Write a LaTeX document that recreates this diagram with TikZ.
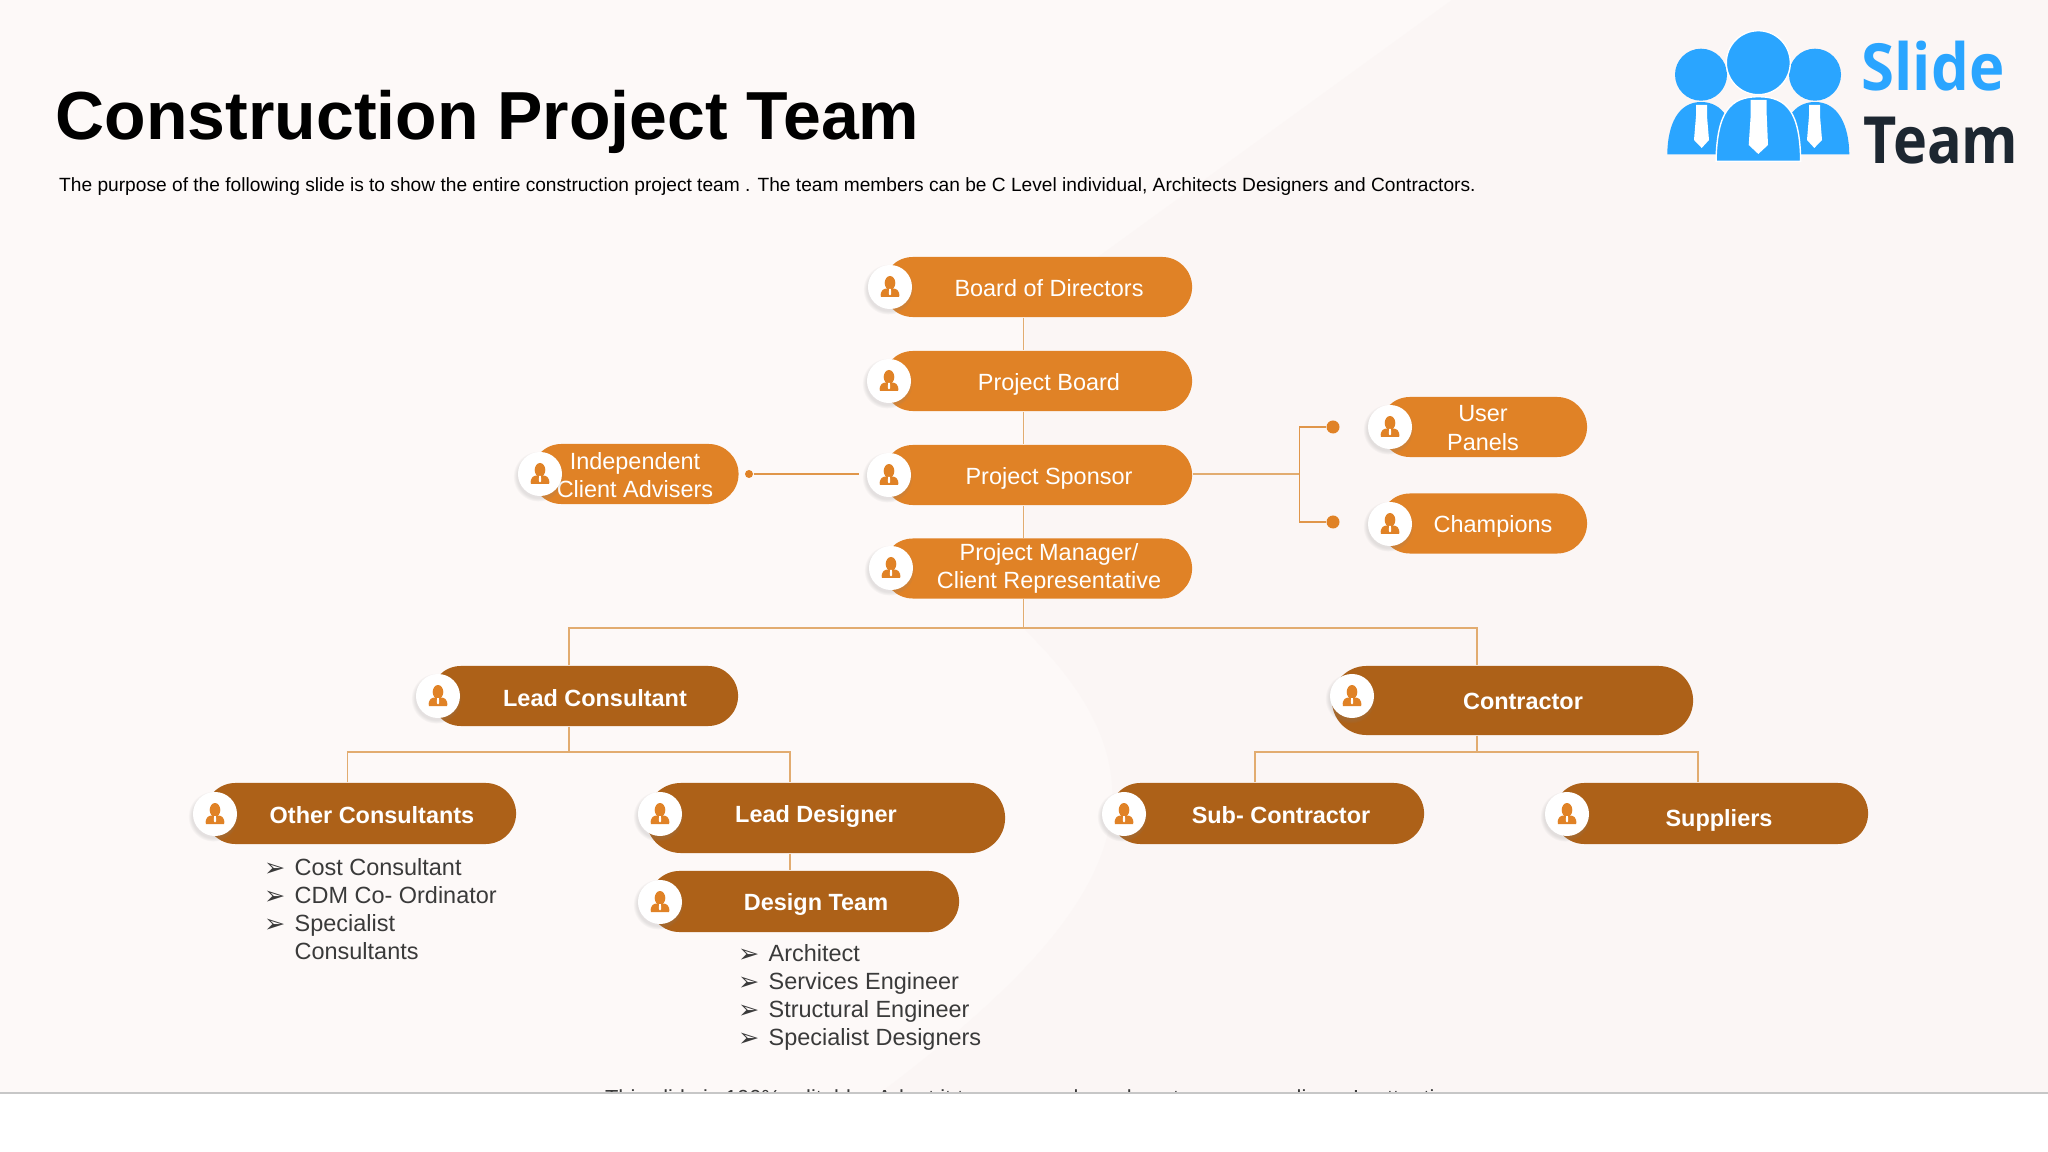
\documentclass[tikz,border=0pt]{standalone}
\usepackage{fontspec}
\setmainfont{Liberation Sans}
\newfontfamily\logofont{Open Sans}
\newfontfamily\bulletfont{DejaVu Sans}
\usetikzlibrary{shapes.misc,shadows}
\definecolor{pillorange}{HTML}{E08226}
\definecolor{pillbrown}{HTML}{AD6118}
\definecolor{connline}{HTML}{E2AC70}
\definecolor{connfork}{HTML}{E0964A}
\definecolor{logoblue}{HTML}{2AA5FF}
\definecolor{logodark}{HTML}{1D2731}
\definecolor{listgray}{HTML}{3A3A3A}
\definecolor{slideback}{HTML}{FDF9F8}
\definecolor{slideright}{HTML}{FBF6F5}
\newlength{\unitpx}
\setlength{\unitpx}{0.01cm}
\newcommand{\listmark}{\makebox[28\unitpx][l]{\hspace*{-2.5\unitpx}\raisebox{-0.3pt}{\bulletfont\fontsize{7.2}{8}\selectfont ➢}}}
\tikzset{
  pillbase/.style={rounded rectangle, inner sep=0pt, text=white, minimum height=0.6cm},
  orangepill/.style={pillbase, fill=pillorange},
  brownpill/.style={pillbase, fill=pillbrown},
  pilltext/.style={text=white, align=center, inner sep=0pt, font=\fontsize{6.67}{8}\selectfont},
  boldtext/.style={pilltext, font=\fontsize{6.67}{8}\selectfont\bfseries},
  listtext/.style={text=listgray, align=left, inner sep=0pt, anchor=north west, font=\fontsize{6.67}{7.97}\selectfont},
  iconcircle/.style={circle, fill=white, minimum size=0.44cm, inner sep=0pt,
    circular drop shadow={shadow xshift=-0.015cm, shadow yshift=-0.02cm, shadow scale=1.15, opacity=0.2}},
  conn/.style={draw=connline, line width=0.4pt},
  connbold/.style={draw=connfork, line width=0.55pt},
  enddot/.style={circle, fill=pillorange, minimum size=0.13cm, inner sep=0pt},
  smalldot/.style={enddot, minimum size=0.08cm},
  personicon/.pic={
    \fill[pillorange] (0,-4) ellipse (5.3 and 7);
    \fill[pillorange] (-9.2,10) .. controls (-10,3) and (-6,1.5) .. (-3,1.5) -- (3,1.5)
      .. controls (6,1.5) and (10,3) .. (9.2,10) -- cycle;
    \fill[white] (-0.9,2) -- (0.9,2) -- (1.2,7) -- (0,8.5) -- (-1.2,7) -- cycle;
  }
}
\begin{document}
\begin{tikzpicture}[x=0.01cm,y=-0.01cm]
\useasboundingbox (0,0) rectangle (2048,1152);
%%%% Background:
\fill[white] (0,0) rectangle (2048,1152);
\fill[slideback] (0,0) rectangle (2048,1093);
\fill[slideright] (1452,0) -- (2048,0) -- (2048,1093) -- (880,1093)
  .. controls (1110,920) and (1190,790) .. (1025,630) -- (1025,310) -- cycle;
%%%% Footer text, cut by the white band:
\node[anchor=base, inner sep=0pt, text=listgray, font=\fontsize{6.2}{8}\selectfont] (footnote) at (1035,1105.5)
  {This slide is 100\% editable. Adapt it to your needs and capture your audience's attention.};
\fill[white] (0,1093) rectangle (2048,1152);
\draw[draw=black!22, line width=0.4pt] (0,1093) -- (2048,1093);
%%%% Title and subtitle:
\node[anchor=base west, inner sep=0pt, font=\fontsize{19.33}{22}\selectfont\bfseries] (title) at (55,139.5) {Construction Project Team};
\node[anchor=base west, inner sep=0pt, font=\fontsize{5.45}{7}\selectfont] (subtitle) at (58.5,192)
  {The purpose of the following slide is to show the entire construction project team . The team members can be C Level individual, Architects Designers and Contractors.};
%%%% Logo:
\fill[logoblue] (1667.3,154.3) .. controls (1667.5,125) and (1678,102) .. (1701,102) .. controls (1722,102) and (1735,120) .. (1735,154.3) -- cycle;
\fill[logoblue] (1849.3,154.3) .. controls (1849,125) and (1838,102) .. (1815,102) .. controls (1794,102) and (1781,120) .. (1781,154.3) -- cycle;
\fill[logoblue] (1701,74.7) circle (26);
\fill[logoblue] (1815,74.7) circle (26);
\fill[logoblue,draw=white,line width=0.4pt] (1716,161.3) .. controls (1717,112) and (1730,96.7) .. (1758.3,96.7) .. controls (1787,96.7) and (1800,112) .. (1800.7,161.3) -- cycle;
\fill[logoblue,draw=white,line width=0.4pt] (1758.3,62.7) circle (32);
\fill[white] (1750.7,100) -- (1766.7,100) -- (1766.7,115) -- (1768,145) -- (1758.3,154) -- (1748.7,145) -- (1750.7,115) -- cycle;
\fill[white] (1696,105) -- (1707,105) -- (1707,116) -- (1709,140) -- (1701.7,148) -- (1694,140) -- (1696,116) -- cycle;
\fill[white] (1809,105) -- (1820,105) -- (1820,116) -- (1822,140) -- (1814.3,148) -- (1807,140) -- (1809,116) -- cycle;
\node[anchor=base west, inner sep=0pt, xscale=0.92, text=logoblue, font=\logofont\fontsize{18.5}{20}\selectfont\bfseries] (logoslide) at (1861,91) {Slide};
\node[anchor=base west, inner sep=0pt, xscale=0.885, text=logodark, font=\logofont\fontsize{18.5}{20}\selectfont\bfseries] (logoteam) at (1863,164) {Team};
%%%% Upper pills:
\node[orangepill, minimum width=3.09cm] (board) at (1037.5,287) {};
\node[orangepill, minimum width=3.09cm] (projboard) at (1037.5,381) {};
\node[orangepill, minimum width=3.09cm] (sponsor) at (1037.5,475) {};
\node[orangepill, minimum width=3.09cm] (manager) at (1037.5,568.5) {};
\node[orangepill, minimum width=2.07cm] (advisers) at (635,474) {};
\node[orangepill, minimum width=2.07cm] (users) at (1483.5,427) {};
\node[orangepill, minimum width=2.07cm] (champions) at (1483.5,523.5) {};
%%%% Lower pills:
\node[brownpill, minimum width=3.07cm] (leadcons) at (584.5,696) {};
\node[brownpill, minimum width=3.61cm, minimum height=0.69cm] (contractor) at (1512.5,700.5) {};
\node[brownpill, minimum width=3.11cm, minimum height=0.61cm] (othercons) at (360.5,813.5) {};
\node[brownpill, minimum width=3.59cm, minimum height=0.70cm] (leaddesign) at (825.5,818) {};
\node[brownpill, minimum width=3.10cm, minimum height=0.61cm] (designteam) at (804,901.5) {};
\node[brownpill, minimum width=3.14cm, minimum height=0.61cm] (subcontr) at (1267,813.5) {};
\node[brownpill, minimum width=3.14cm, minimum height=0.61cm] (suppliers) at (1711,813.5) {};
%%%% Pill labels:
\node[pilltext] (boardtext) at (1049,288) {Board of Directors};
\node[pilltext] (projboardtext) at (1049,384) {Project Board};
\node[pilltext] (sponsortext) at (1049,478) {Project Sponsor};
\node[pilltext] (managertext) at (1049,568.5) {Project Manager/\\Client Representative};
\node[pilltext] (adviserstext) at (635,475) {Independent\\Client Advisers};
\node[pilltext] (userstext) at (1483,428) {User\\Panels};
\node[pilltext] (championstext) at (1493,526) {Champions};
\node[boldtext] (leadconstext) at (595,698) {Lead Consultant};
\node[boldtext] (contractortext) at (1523,701) {Contractor};
\node[boldtext] (otherconstext) at (372,815) {Other Consultants};
\node[boldtext] (leaddesigntext) at (816,816) {Lead Designer};
\node[boldtext] (designteamtext) at (816,904) {Design Team};
\node[boldtext] (subcontrtext) at (1281,815) {Sub- Contractor};
\node[boldtext] (supplierstext) at (1719,820) {Suppliers};
%%%% Icons:
\node[iconcircle] (iconboard) at (890,287) {};
\node[iconcircle] (iconprojboard) at (889,381) {};
\node[iconcircle] (iconsponsor) at (889,475) {};
\node[iconcircle] (iconmanager) at (891,568) {};
\node[iconcircle] (iconadvisers) at (540,474) {};
\node[iconcircle] (iconusers) at (1390,427) {};
\node[iconcircle] (iconchampions) at (1390,524) {};
\node[iconcircle] (iconleadcons) at (438,696) {};
\node[iconcircle] (iconcontractor) at (1352,696) {};
\node[iconcircle] (iconothercons) at (215,814) {};
\node[iconcircle] (iconleaddesign) at (660,814) {};
\node[iconcircle] (icondesignteam) at (660,902) {};
\node[iconcircle] (iconsubcontr) at (1124,814) {};
\node[iconcircle] (iconsuppliers) at (1567,814) {};
\foreach \iconname in {iconboard,iconprojboard,iconsponsor,iconmanager,iconadvisers,iconusers,iconchampions,iconleadcons,iconcontractor,iconothercons,iconleaddesign,icondesignteam,iconsubcontr,iconsuppliers}
  \pic at (\iconname) {personicon};
%%%% Connectors:
\coordinate (spine) at (1023.5,628);
\coordinate (spineleft) at (569,628);
\coordinate (spineright) at (1477,628);
\coordinate (leftbar) at (569,752);
\coordinate (leftbarl) at (347.5,752);
\coordinate (leftbarr) at (790,752);
\coordinate (rightbar) at (1477,752);
\coordinate (rightbarl) at (1255,752);
\coordinate (rightbarr) at (1698,752);
\coordinate (fork) at (1299.5,474);
\node[smalldot] (advisersdot) at (749,474) {};
\node[enddot] (usersdot) at (1333,427) {};
\node[enddot] (championsdot) at (1333,522) {};
\coordinate (sponsorstub) at (859,474);
\draw[conn] (board.south -| spine) -- (projboard.north -| spine);
\draw[conn] (projboard.south -| spine) -- (sponsor.north -| spine);
\draw[conn] (sponsor.south -| spine) -- (manager.north -| spine);
\draw[conn] (manager.south -| spine) -- (spine);
\draw[conn] (leadcons.north -| spineleft) -- (spineleft) -- (spineright) -- (contractor.north -| spineright);
\draw[conn] (leadcons.south -| leftbar) -- (leftbar);
\draw[conn] (othercons.north -| leftbarl) -- (leftbarl) -- (leftbarr) -- (leaddesign.north -| leftbarr);
\draw[conn] (leaddesign.south -| leftbarr) -- (designteam.north -| leftbarr);
\draw[conn] (contractor.south -| rightbar) -- (rightbar);
\draw[conn] (subcontr.north -| rightbarl) -- (rightbarl) -- (rightbarr) -- (suppliers.north -| rightbarr);
\draw[conn] (sponsor.east |- fork) -- (fork);
\draw[connbold] (advisersdot) -- (sponsorstub);
\draw[connbold] (usersdot) -| (fork) |- (championsdot);
%%%% Bullet lists:
\node[listtext] (otherlist) at (266,858) {\listmark Cost Consultant\\\listmark CDM Co- Ordinator\\\listmark Specialist\\\hphantom{\listmark}Consultants};
\node[listtext] (designlist) at (740,943.5) {\listmark Architect\\\listmark Services Engineer\\\listmark Structural Engineer\\\listmark Specialist Designers};
\end{tikzpicture}
\end{document}
